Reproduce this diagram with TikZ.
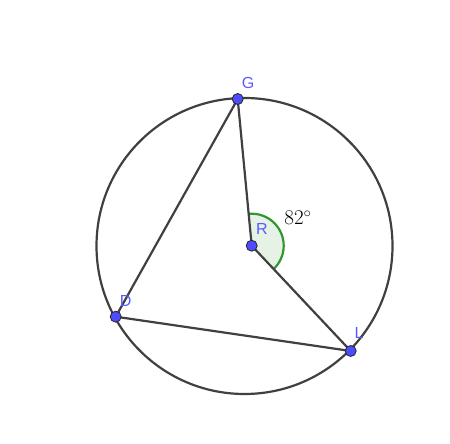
\documentclass[tikz,border=0pt]{standalone}
\usepackage{fix-cm}
\usepackage{fontspec}
\setsansfont{Liberation Sans}
\definecolor{ptblue}{RGB}{77,77,255}
\definecolor{lblblue}{RGB}{90,90,255}
\definecolor{segcol}{RGB}{64,64,64}
\definecolor{anggreen}{RGB}{50,150,50}
\definecolor{angfillc}{RGB}{229,242,229}
\begin{document}
\begin{tikzpicture}[x=1pt,y=1pt,
    seg/.style={draw=segcol,line width=2.2pt},
    dot/.style={draw=black!85,fill=ptblue,circle,inner sep=0pt,minimum size=11pt,line width=0.8pt},
    lbl/.style={text=lblblue,font=\sffamily\fontsize{16}{16}\selectfont,inner sep=0pt}]
  \useasboundingbox(0,0)rectangle(450,444);
  \coordinate(O) at(244.5,198);
  \coordinate(G) at(237.7,345);
  \coordinate(D) at(115.7,127.3);
  \coordinate(L) at(350.7,93);
  \coordinate(R) at(251.7,198.3);
  % angle GRL
  \fill[angfillc](R)--++(-46.8:32)arc(-46.8:95.45:32)--cycle;
  \draw[anggreen,line width=2.2pt](R)++(-46.8:32)arc(-46.8:95.45:32);
  \draw[seg](O)circle(148);
  \foreach \x/\y in {G/D, D/L, G/R, R/L}{
    \draw[seg](\x)--(\y);
  }
  \foreach \p in {G,D,L,R}{
    \node[dot](\p dot) at(\p){};
  }
  \node[lbl](Glbl) at(248,361){G};
  \node[lbl](Dlbl) at(125.7,143.3){D};
  \node[lbl](Llbl) at(359,111){L};
  \node[lbl](Rlbl) at(262,214.7){R};
  \node[font=\fontsize{21}{21}\selectfont,inner sep=0pt](ang) at(298,226){82$^\circ$};
\end{tikzpicture}
\end{document}
